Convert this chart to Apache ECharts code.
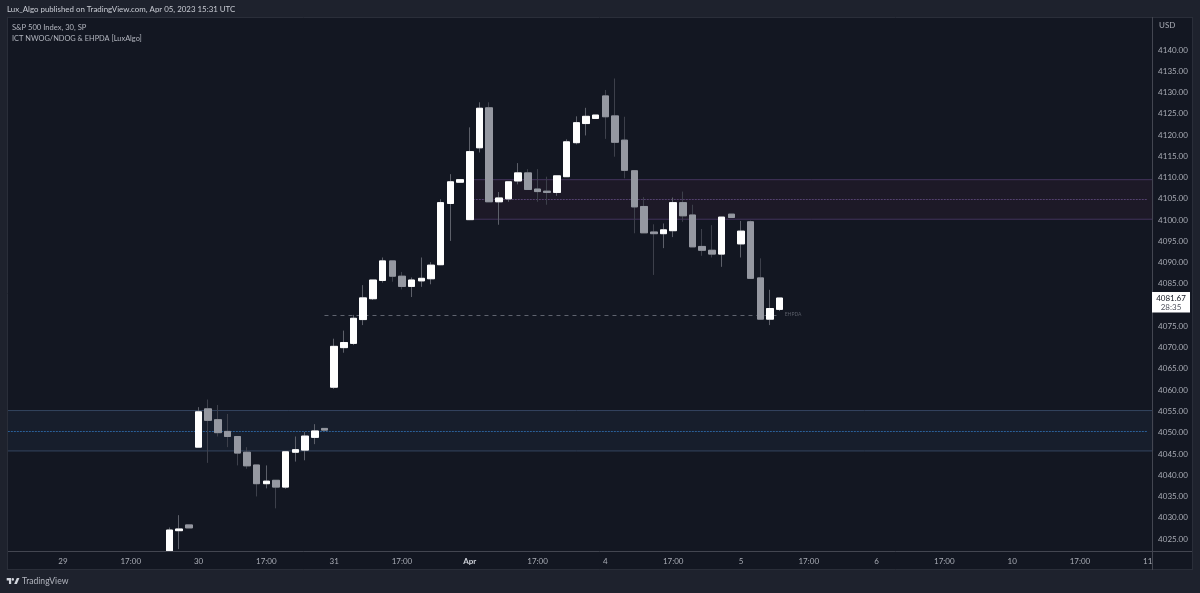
<!DOCTYPE html>
<html>
<head>
<meta charset="utf-8">
<title>S&amp;P 500 Index, 30</title>
<style>
  html, body { margin: 0; padding: 0; background: #1e222d; }
  #chart { width: 1200px; height: 593px; }
</style>
<script src="https://cdn.jsdelivr.net/npm/echarts@6/dist/echarts.min.js"></script>
</head>
<body>
<div id="chart"></div>
<script>
// bars 17..80 of the pane
const firstBar = 17;
const opens = [4022.2,4026.95,4028.3,4046.6,4055.6,4053.05,4050.3,4049.1,4045.4,4042.4,4038,4038.8,4037.2,4045.4,4045.9,4048.9,4051,
  4060.7,4070,4071,4076.6,4081.5,4085.8,4090.4,4086.8,4084.4,4085.7,4086.2,4089.5,4103.9,4108.9,4100.1,4117,4126.4,4104.3,4105,4109.2,4111.1,4107.3,4106.8,4106.5,4110.2,4118.2,4122.7,4123.9,
  4129.2,4124.5,4118.8,4111.6,4103.2,4097.2,4096.8,4097.5,4104.1,4101.2,4093.8,4092.9,4092,4101.4,4094.4,4099.6,4086.4,4076.7,4079];
const closes = [4027.1,4027.35,4027.6,4054.9,4052.9,4050,4049.1,4045.2,4042.2,4038,4038.6,4037.2,4045.5,4046,4049.2,4050.4,4050.6,
  4070.3,4071.2,4076.9,4081.7,4085.9,4090.4,4086.8,4084.4,4085.9,4086.3,4089.4,4104.1,4109,4109.5,4116.1,4126.3,4104.3,4105.2,4109,4111.1,4107.2,4106.7,4106.5,4110.4,4118.4,4122.9,4124.4,4124.7,
  4124.3,4118.3,4111.7,4103.1,4097,4096.8,4097.7,4104.1,4101,4093.7,4092.9,4092,4100.7,4100.6,4097.4,4086.3,4076.7,4079.2,4081.67];
const lows = [4022.2,4022.6,4027.6,4046.6,4042.9,4049.1,4046.6,4042.3,4041.5,4035,4036.9,4032.2,4036.8,4043.2,4043.5,4047.3,4050.6,
  4060.3,4068.8,4070.6,4075.3,4081.2,4085.3,4085.5,4083.7,4081.9,4084.3,4084.9,4089.4,4095.1,4108.9,4100,4115.9,4104.3,4098.9,4104.3,4108.4,4107.2,4104.3,4103.6,4105.7,4110.2,4117.8,4119.9,4123.9,
  4119.1,4114.9,4109.8,4096.9,4097,4087.1,4093.4,4096,4099.6,4093.7,4091.6,4091.2,4089,4100.6,4091.2,4086.3,4076.5,4075.3,4078.6];
const highs = [4027.7,4030.6,4028.3,4056,4057.8,4056.5,4054.4,4049.2,4046.6,4042.4,4042.3,4038.8,4045.5,4049.1,4050.2,4052,4051,
  4072.1,4074,4077.7,4084.7,4085.9,4091.2,4090.4,4087.8,4086.5,4091.2,4090.1,4104.9,4110.8,4109.5,4121.8,4127.7,4127.7,4106.6,4109,4113.4,4112,4112,4110.2,4110.4,4119,4124.4,4126.4,4124.7,
  4130.6,4133.3,4124.3,4111.6,4105.4,4099,4099.2,4105.3,4106.7,4103.6,4097.9,4098.8,4100.7,4101.4,4099.8,4099.9,4091,4083.6,4081.67];

// x axis: one tick label every 7 bars, the first on bar 6
const barCount = 119;
const firstTick = 6;
const tickStep = 7;
const timeTicks = ['29','17:00','30','17:00','31','17:00','Apr','17:00','4','17:00','5','17:00','6','17:00','10','17:00','11'];
// price axis (4080 sits under the last price box)
const priceTicks = [4025,4030,4035,4040,4045,4050,4055,4060,4065,4070,4075,4085,4090,4095,4100,4105,4110,4115,4120,4125,4130,4135,4140];

// levels [top, middle, bottom] and the bar where they start
const nwog = [4055.2, 4050.4, 4045.7];
const ndog = [4109.5, 4104.9, 4100.2];
const ndogStart = 48;
const ehpda = 4077.7;
const ehpdaBars = [33, 80];

const PAGE = '#1e222d', PANE = '#131722', EDGE = '#2a2e39', AXIS = '#434651', TEXT = '#a9acb5';
const FONT = 'Lato, Roboto, sans-serif';

const categories = Array.from({ length: barCount }, (_, i) => {
  const k = (i - firstTick) / tickStep;
  return Number.isInteger(k) && timeTicks[k] ? timeTicks[k] : '';
});
const pad = new Array(firstBar).fill(['-', '-', '-', '-']);
const candles = pad.concat(opens.map((o, i) => [o, closes[i], lows[i], highs[i]]));
const bodies = pad.concat(opens.map((o, i) => [o, closes[i], Math.min(o, closes[i]), Math.max(o, closes[i])]));

function zone(levels, start) {
  const from = start === undefined ? {} : { xAxis: start };
  return [{ ...from, yAxis: levels[0] }, { yAxis: levels[2] }];
}
function midLine(levels, start, color) {
  const from = start === undefined ? { xAxis: 0 } : { xAxis: start };
  return [
    { ...from, yAxis: levels[1], lineStyle: { color, type: [2, 1], width: 1 } },
    { xAxis: barCount - 1, yAxis: levels[1] }
  ];
}

function text(x, y, str, size, fill, align, weight) {
  return { type: 'text', z: 20, x, y, style: { text: str, fontFamily: FONT, fontSize: size, fill, align: align || 'left', verticalAlign: 'middle', fontWeight: weight || 'normal' } };
}
function rect(x, y, width, height, fill, z) {
  return { type: 'rect', z, shape: { x, y, width, height }, style: { fill } };
}
function line(x1, y1, x2, y2, stroke) {
  return { type: 'line', z: 15, shape: { x1, y1, x2, y2 }, style: { stroke: stroke || EDGE, lineWidth: 1 } };
}
function logoPart(points) {
  return { type: 'polygon', z: 20, x: 6.7, y: 578, scaleX: 0.75, scaleY: 0.86, shape: { points }, style: { fill: '#d1d4dc' } };
}

const chart = echarts.init(document.getElementById('chart'));
chart.setOption({
  animation: false,
  backgroundColor: PAGE,
  grid: { left: 0, top: 17, width: 1152.6, height: 534 },
  xAxis: {
    type: 'category',
    data: categories,
    boundaryGap: true,
    axisLine: { show: false },
    axisTick: { show: false },
    splitLine: { show: false },
    axisLabel: {
      interval: (i, v) => v !== '',
      color: TEXT,
      fontFamily: FONT,
      fontSize: 8,
      margin: 6,
      formatter: v => (v === 'Apr' ? '{b|Apr}' : v),
      rich: { b: { color: '#d1d4dc', fontFamily: FONT, fontSize: 8, fontWeight: 'bold' } }
    }
  },
  yAxis: {
    type: 'value',
    position: 'right',
    min: 4022.17,
    max: 4147.76,
    axisLine: { show: false },
    axisTick: { show: false },
    splitLine: { show: false },
    axisLabel: {
      customValues: priceTicks,
      formatter: v => v.toFixed(2),
      color: TEXT,
      fontFamily: FONT,
      fontSize: 8,
      margin: 5.5
    }
  },
  series: [
    {
      name: 'wicks',
      type: 'candlestick',
      data: candles,
      barWidth: 7,
      itemStyle: { color: '#ffffff', color0: '#9598a1', borderColor: '#5d606a', borderColor0: '#3d404b', borderWidth: 1 },
      markArea: {
        silent: true,
        z: 1,
        data: [
          [{ ...zone(nwog)[0], itemStyle: { color: '#171e2c', borderColor: '#34445f', borderWidth: 1 } }, zone(nwog)[1]],
          [{ ...zone(ndog, ndogStart)[0], itemStyle: { color: '#1d1927', borderColor: '#43335c', borderWidth: 1 } }, zone(ndog, ndogStart)[1]]
        ]
      },
      markLine: {
        silent: true,
        symbol: 'none',
        z: 1,
        label: { show: false },
        data: [
          midLine(nwog, undefined, '#2a5f98'),
          midLine(ndog, ndogStart, '#54416f'),
          [
            { xAxis: ehpdaBars[0], yAxis: ehpda, lineStyle: { color: '#5f636e', type: [4, 4], width: 1 } },
            {
              xAxis: ehpdaBars[1],
              yAxis: ehpda,
              label: { show: true, position: 'end', formatter: 'EHPDA', color: '#5a5e69', fontSize: 5, fontFamily: FONT, distance: 5 }
            }
          ]
        ]
      }
    },
    {
      name: 'bodies',
      type: 'candlestick',
      data: bodies,
      barWidth: 7,
      itemStyle: { color: '#ffffff', color0: '#9598a1', borderColor: '#ffffff', borderColor0: '#9598a1', borderWidth: 1 }
    }
  ],
  graphic: [
    rect(7, 17, 1185, 552, PANE, -1),
    rect(0, 17, 7, 552, PAGE, 10),
    line(7, 17.5, 1192, 17.5),
    line(7, 551.5, 1192, 551.5, AXIS),
    line(7, 569.5, 1192, 569.5),
    line(7.5, 17, 7.5, 570),
    line(1152.5, 17, 1152.5, 570, AXIS),
    line(1192.5, 17, 1192.5, 570),
    text(7, 9.5, 'Lux_Algo published on TradingView.com, Apr 05, 2023 15:31 UTC', 7.9, '#c9ccd4'),
    text(12, 27.5, 'S&P 500 Index, 30, SP', 7.6, '#b2b5be'),
    text(12, 38.5, 'ICT NWOG/NDOG & EHPDA [LuxAlgo]', 7.4, '#b2b5be'),
    text(1159, 25, 'USD', 8, TEXT),
    rect(1152, 292, 38, 20.5, '#ffffff', 18),
    text(1171, 298, '4081.67', 8, '#131722', 'center'),
    text(1171, 307, '28:35', 8, '#50535e', 'center'),
    logoPart([[0, 0], [6, 0], [6, 7], [3, 7], [3, 3], [0, 3]]),
    { type: 'circle', z: 20, x: 6.7, y: 578, scaleX: 0.75, scaleY: 0.86, shape: { cx: 8.2, cy: 1.6, r: 1.5 }, style: { fill: '#d1d4dc' } },
    logoPart([[13.5, 0], [17, 0], [13.5, 7], [10, 7]]),
    text(22, 581, 'TradingView', 8.6, '#b2b5be')
  ]
});
</script>
</body>
</html>
